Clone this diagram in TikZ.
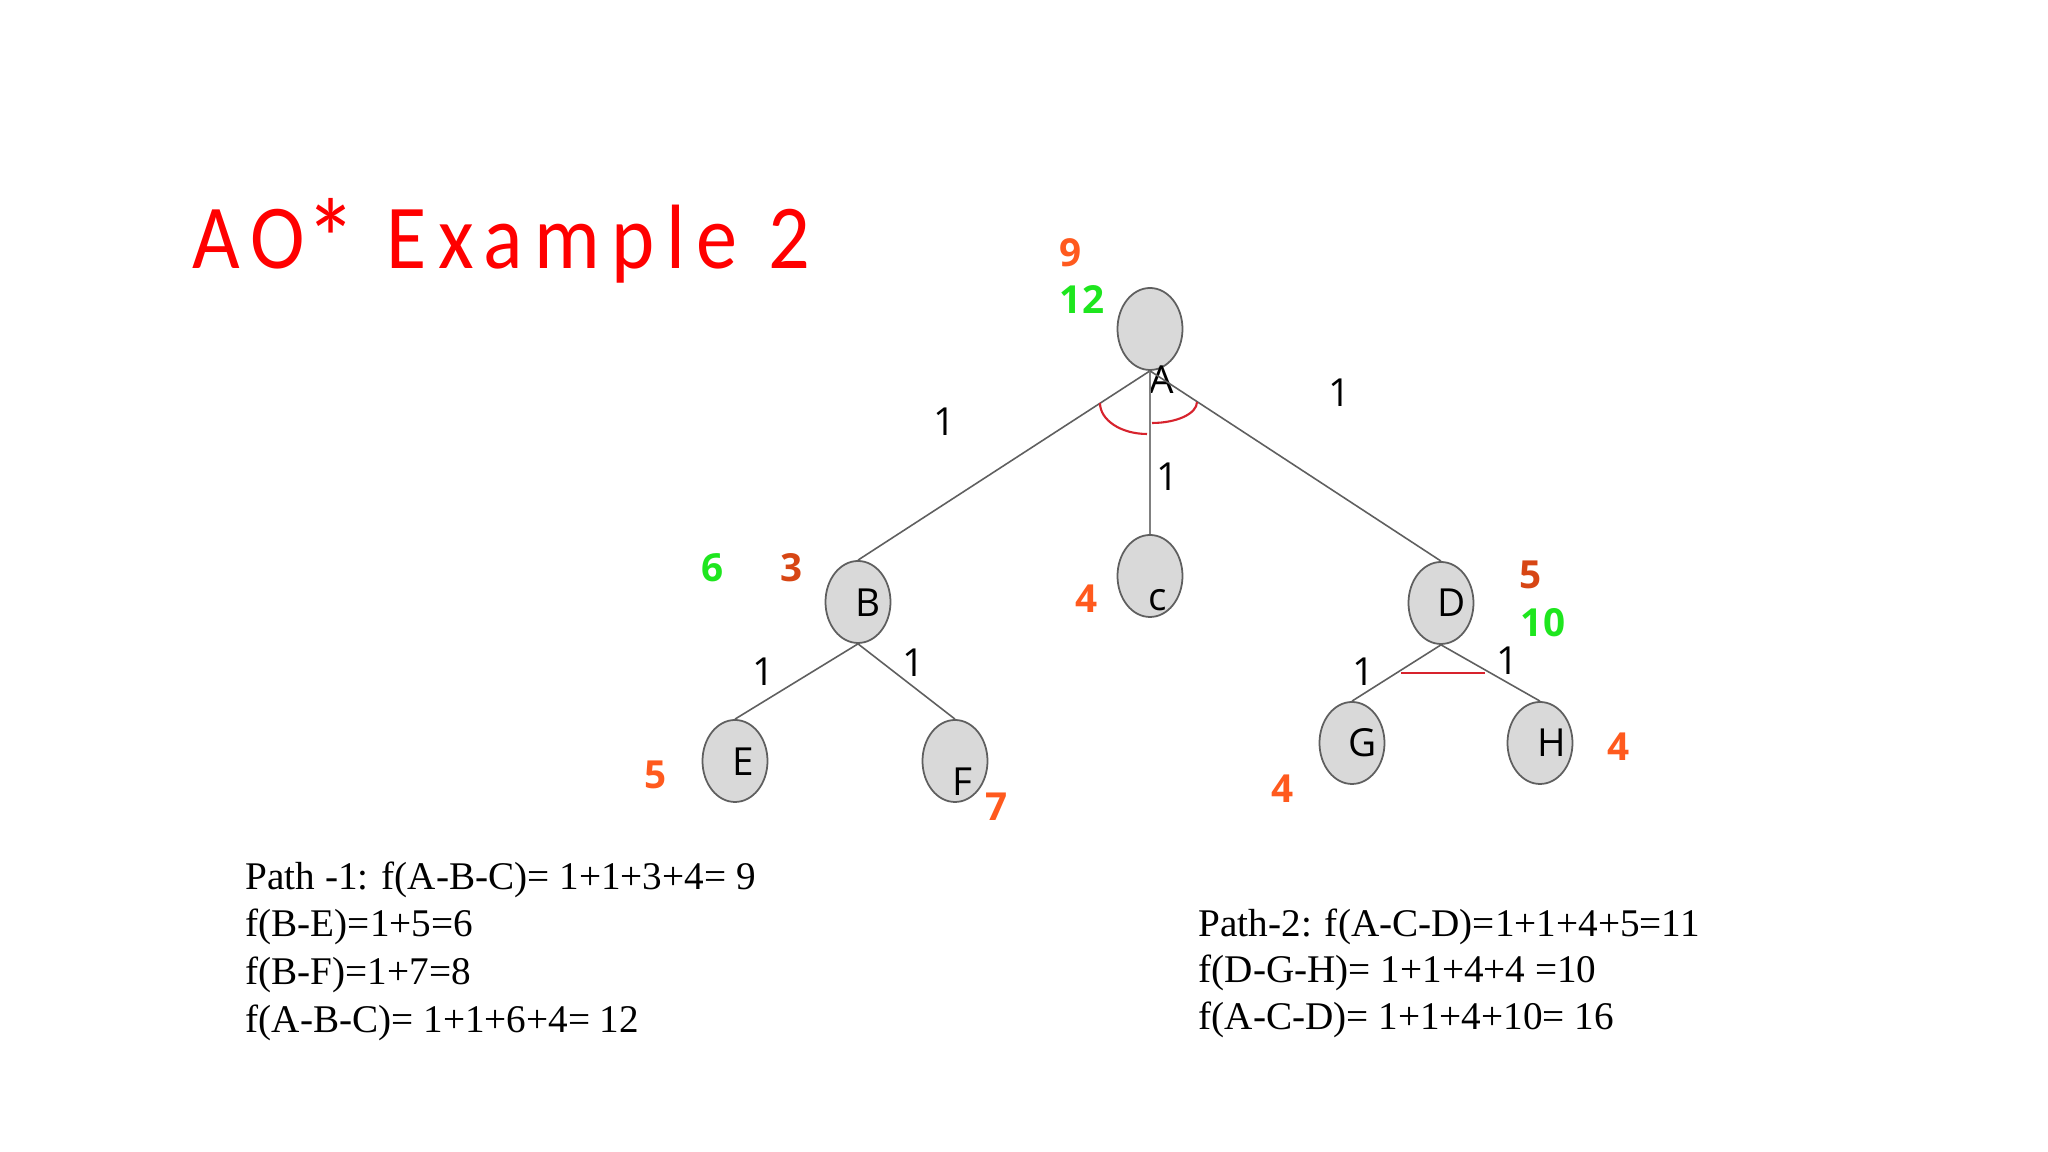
\documentclass[tikz,border=0pt]{standalone}
\usepackage{fontspec}
\setmainfont{Liberation Serif}
\newfontfamily\labfont{Open Sans}
\newfontfamily\titlefont[LetterSpace=14]{Carlito}
\usepackage{tikz}
\usetikzlibrary{calc, positioning, shapes.geometric}
\definecolor{nodegray}{RGB}{217,217,217}
\definecolor{edgegray}{RGB}{95,95,95}
\definecolor{hval}{RGB}{255,90,30}
\definecolor{hdark}{RGB}{215,70,20}
\definecolor{hnew}{RGB}{30,230,30}
\definecolor{andred}{RGB}{215,35,45}
\tikzstyle{vtx}=[draw=edgegray, fill=nodegray, shape=ellipse, minimum width=0.65cm, minimum height=0.82cm, inner sep=0pt, line width=0.5pt]
\tikzstyle{ltr}=[inner sep=0pt, font=\labfont\fontsize{11}{13}\selectfont]
\tikzstyle{hv}=[inner sep=0pt, font=\labfont\bfseries\fontsize{11}{13}\selectfont]
\tikzstyle{eq}=[inner sep=0pt, anchor=base west, font=\fontsize{11.15}{13}\selectfont]
\tikzstyle{edge}=[draw=edgegray, line width=0.45pt]
\tikzset{>=stealth}

\begin{document}
\begin{tikzpicture}
\fill[white] (0,0) rectangle (20.48,11.52);
\useasboundingbox (0,0) rectangle (20.48,11.52);
% the title
\node[inner sep=0pt, anchor=base west, xscale=0.9, text=red, font=\titlefont\fontsize{26}{30}\selectfont] (title) at (1.92,8.83) {AO\raisebox{-0.12em}{\scalebox{1.25}{*}} Example 2};
% the vertices
\node[vtx] (A) at (11.50,8.23) {};
\node[vtx] (B) at (8.58,5.50) {};
\node[vtx] (C) at (11.50,5.76) {};
\node[vtx] (D) at (14.41,5.49) {};
\node[vtx] (E) at (7.35,3.91) {};
\node[vtx] (F) at (9.55,3.91) {};
\node[vtx] (G) at (13.52,4.09) {};
\node[vtx] (H) at (15.40,4.09) {};
% the vertex names
\node[ltr] (tA) at (11.62,7.72) {A};
\node[ltr] (tB) at (8.68,5.49) {B};
\node[ltr] (tC) at (11.58,5.52) {c};
\node[ltr] (tD) at (14.52,5.49) {D};
\node[ltr] (tE) at (7.43,3.90) {E};
\node[ltr] (tF) at (9.62,3.70) {F};
\node[ltr] (tG) at (13.63,4.09) {G};
\node[ltr] (tH) at (15.52,4.09) {H};
% the edges
\draw[edge] (A.south) -- (B.north);
\draw[edge, draw=gray, line width=0.6pt] (A.south) -- (C.north);
\draw[edge] (A.south) -- (D.north);
\draw[edge] (B.south) -- (E.north);
\draw[edge] (B.south) -- (F.north);
\draw[edge] (D.south) -- (G.north);
\draw[edge] (D.south) -- (H.north);
% the edge costs
\node[ltr] (cAB) at (9.45,7.30) {1};
\node[ltr] (cAC) at (11.68,6.75) {1};
\node[ltr] (cAD) at (13.40,7.59) {1};
\node[ltr] (cBE) at (7.64,4.80) {1};
\node[ltr] (cBF) at (9.14,4.89) {1};
\node[ltr] (cDG) at (13.64,4.80) {1};
\node[ltr] (cDH) at (15.08,4.91) {1};
% the and-arcs
\coordinate (andAL) at (11.00,7.49);
\coordinate (andAR) at (11.52,7.29);
\draw[andred, line width=0.6pt] (andAL) arc[start angle=180, end angle=270, x radius=0.47, y radius=0.31];
\draw[andred, line width=0.6pt] (andAR) arc[start angle=270, end angle=360, x radius=0.45, y radius=0.21];
\coordinate (andG) at (14.01,4.79);
\coordinate (andH) at (14.85,4.79);
\draw[andred, line width=0.6pt] (andG) -- (andH);
% the estimates
\node[hv, text=hval] (hA1) at (10.71,8.99) {9};
\node[hv, text=hnew] (hA2) at (10.82,8.52) {12};
\node[hv, text=hnew] (hB2) at (7.13,5.84) {6};
\node[hv, text=hdark] (hB1) at (7.92,5.84) {3};
\node[hv, text=hval] (hC) at (10.87,5.53) {4};
\node[hv, text=hdark] (hD1) at (15.31,5.77) {5};
\node[hv, text=hnew] (hD2) at (15.43,5.29) {10};
\node[hv, text=hval] (hE) at (6.56,3.77) {5};
\node[hv, text=hval] (hF) at (9.97,3.45) {7};
\node[hv, text=hval] (hG) at (12.83,3.63) {4};
\node[hv, text=hval] (hH) at (16.19,4.05) {4};
% the path costs
\node[eq] (p1a) at (2.45,2.62) {Path -1: f(A-B-C)= 1+1+3+4= 9};
\node[eq] (p1b) at (2.45,2.15) {f(B-E)=1+5=6};
\node[eq] (p1c) at (2.45,1.67) {f(B-F)=1+7=8};
\node[eq] (p1d) at (2.45,1.19) {f(A-B-C)= 1+1+6+4= 12};
\node[eq] (p2a) at (11.98,2.15) {Path-2: f(A-C-D)=1+1+4+5=11};
\node[eq] (p2b) at (11.98,1.69) {f(D-G-H)= 1+1+4+4 =10};
\node[eq] (p2c) at (11.98,1.22) {f(A-C-D)= 1+1+4+10= 16};
\end{tikzpicture}
\end{document}
